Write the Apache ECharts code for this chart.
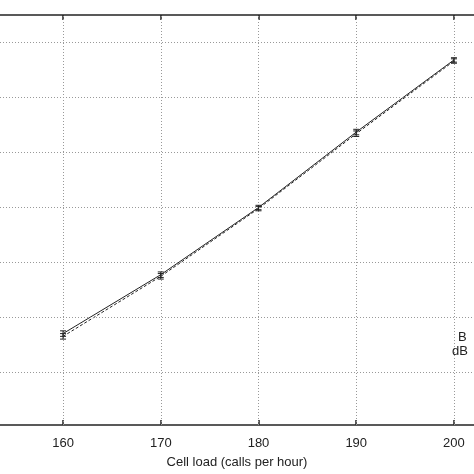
<!DOCTYPE html>
<html><head><meta charset="utf-8">
<script src="https://cdn.jsdelivr.net/npm/echarts@6/dist/echarts.min.js"></script>
<style>html,body{margin:0;padding:0;background:#fff}#c{width:474px;height:474px}</style>
</head><body><div id="c"></div>
<script>
const loads = [160, 170, 180, 190, 200];
const seriesB = [1.66, 2.73, 3.95, 5.32, 6.63];
const seriesDB = [1.61, 2.70, 3.93, 5.29, 6.61];
const errB = [0.05, 0.05, 0.04, 0.05, 0.04];
const errDB = [0.05, 0.05, 0.04, 0.05, 0.04];
const gridLevels = [0.95, 1.95, 2.95, 3.95, 4.95, 5.95, 6.95];
const xTicks = [160, 170, 180, 190, 200];
const xMin = 153.55, xMax = 202.05, yMax = 7.446;

const chart = echarts.init(document.getElementById('c'));
function errSeries(vals, errs) {
  return {
    type: 'custom', silent: true, z: 5,
    data: loads.map((x, i) => [x, vals[i] - errs[i], vals[i] + errs[i]]),
    renderItem: (p, api) => {
      const lo = api.coord([api.value(0), api.value(1)]);
      const hi = api.coord([api.value(0), api.value(2)]);
      const w = 3;
      const st = { stroke: '#222', lineWidth: 1 };
      return { type: 'group', children: [
        { type: 'line', shape: { x1: lo[0], y1: lo[1], x2: hi[0], y2: hi[1] }, style: st },
        { type: 'line', shape: { x1: lo[0]-w, y1: lo[1], x2: lo[0]+w, y2: lo[1] }, style: st },
        { type: 'line', shape: { x1: hi[0]-w, y1: hi[1], x2: hi[0]+w, y2: hi[1] }, style: st }
      ]};
    }
  };
}
const axisCommon = {
  type: 'value', min: xMin, max: xMax,
  axisLine: { show: true, onZero: false, lineStyle: { color: '#222', width: 1.5 } },
  axisTick: { show: true, inside: true, length: 5, lineStyle: { color: '#222', width: 1.5 }, customValues: xTicks },
  splitLine: { show: false }
};
chart.setOption({
  animation: false,
  grid: { left: 0, right: 0, top: 15, bottom: 42, show: false },
  xAxis: [Object.assign({}, axisCommon, {
    position: 'bottom',
    axisLabel: { color: '#222', fontFamily: 'Liberation Sans', fontSize: 13, margin: 12, customValues: xTicks },
    name: 'Cell load (calls per hour)', nameLocation: 'middle', nameGap: 31,
    nameTextStyle: { color: '#222', fontFamily: 'Liberation Sans', fontSize: 13 }
  }), Object.assign({}, axisCommon, {
    position: 'top', axisLabel: { show: false }
  })],
  yAxis: { type: 'value', min: 0, max: yMax, show: false, splitLine: { show: false } },
  series: [{
    type: 'line', data: loads.map((x, i) => [x, seriesB[i]]), symbol: 'none',
    lineStyle: { color: '#222', width: 1 },
    markLine: { silent: true, symbol: 'none', label: { show: false },
      lineStyle: { type: [1, 2], color: '#999', width: 1 },
      data: gridLevels.map(v => ({ yAxis: v })).concat(xTicks.map(v => ({ xAxis: v }))) }
  }, {
    type: 'line', data: loads.map((x, i) => [x, seriesDB[i]]), symbol: 'none',
    lineStyle: { color: '#222', width: 1, type: [3, 2] },
    markLine: { silent: true, symbol: 'none', label: { show: false },
      lineStyle: { type: 'solid', color: '#222', width: 1.5 },
      data: [{ yAxis: yMax }] }
  }, errSeries(seriesB, errB), errSeries(seriesDB, errDB)],
  graphic: [
    { type: 'text', left: 458, top: 331, style: { text: 'B', fill: '#222', font: '13px Liberation Sans' } },
    { type: 'text', left: 452, top: 345, style: { text: 'dB', fill: '#222', font: '13px Liberation Sans' } }
  ]
});
</script></body></html>
